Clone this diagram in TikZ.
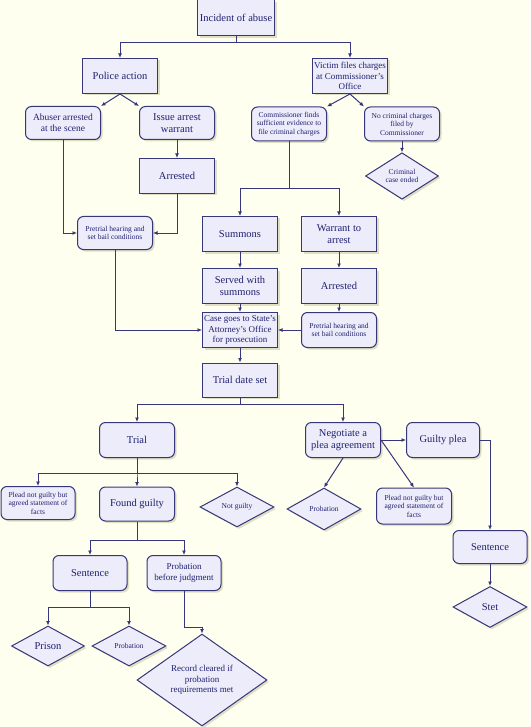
\documentclass[tikz,border=0pt]{standalone}
\usepackage{fontspec}
\setmainfont{Liberation Serif}
\usepackage{xcolor}
\usetikzlibrary{arrows.meta,shapes.geometric,shadows}
\definecolor{paper}{HTML}{FFFFF0}
\definecolor{boxfill}{HTML}{ECECFA}
\definecolor{navy}{HTML}{36367A}
\definecolor{ink}{HTML}{202070}
\definecolor{shade}{HTML}{D8D8B8}
\tikzset{
	box/.style={
			rectangle, draw=navy, line width=1pt, fill=boxfill, text=ink,
			minimum width=75pt, minimum height=35pt, inner sep=1pt, align=center,
			font=\fontsize{10.5}{11.5}\selectfont,
			drop shadow={shadow xshift=2pt, shadow yshift=-2pt, fill=shade, opacity=0.8}
		},
	rbox/.style={box, rounded corners=6pt},
	dia/.style={box, diamond, minimum width=74pt, minimum height=41pt, inner sep=0pt},
	long/.style={font=\fontsize{9}{10.5}\selectfont},
	tiny/.style={font=\fontsize{7.5}{8.5}\selectfont},
	flow/.style={draw=navy, line width=1pt, -{Latex[length=4.5pt,width=4pt]}}
}

\begin{document}
\begin{tikzpicture}[x=1pt, y=-1pt]
        \useasboundingbox[fill=paper] (0,0) rectangle (530,727);
        \node[box, minimum width=77pt, minimum height=36pt] (inc) at (236,18) {Incident of abuse};
        \node[box] (police) at (120,76) {Police action};
        \node[box, long] (victim) at (350,76) {Victim files charges\\at Commissioner's\\Office};
        \node[rbox, font=\fontsize{9.5}{11}\selectfont, minimum height=33pt] (abuser) at (63,123) {Abuser arrested\\at the scene};
        \node[rbox, minimum height=33pt] (issue) at (177,123) {Issue arrest\\warrant};
        \node[rbox, tiny, minimum height=34pt] (comm) at (289,124) {Commissioner finds\\sufficient evidence to\\file criminal charges};
        \node[rbox, tiny, minimum height=34pt] (nocrim) at (402,124) {No criminal charges\\filed by\\Commissioner};
        \node[box] (arr1) at (177,176) {Arrested};
        \node[dia, tiny, minimum width=73pt] (ended) at (402,176) {Criminal\\case ended};
        \node[rbox, tiny, minimum height=33pt] (pre1) at (115,233) {Pretrial hearing and\\set bail conditions};
        \node[box] (summons) at (240,234) {Summons};
        \node[box] (warrant) at (339,234) {Warrant to\\arrest};
        \node[box] (served) at (240,286) {Served with\\summons};
        \node[box] (arr2) at (339,286) {Arrested};
        \node[box, long] (case) at (240,330) {Case goes to State's\\Attorney's Office\\for prosecution};
        \node[rbox, tiny] (pre2) at (339,330) {Pretrial hearing and\\set bail conditions};
        \node[box, minimum height=34pt] (tds) at (240,380) {Trial date set};
        \node[rbox] (trial) at (137,440) {Trial};
        \node[rbox] (neg) at (343,440) {Negotiate a\\plea agreement};
        \node[rbox, minimum width=73pt] (gp) at (443,440) {Guilty plea};
        \node[rbox, tiny, minimum width=74pt, minimum height=33pt] (plead1) at (38,503) {Plead not guilty but\\agreed statement of\\facts};
        \node[rbox, minimum height=34pt] (found) at (137,504) {Found guilty};
        \node[dia, tiny, minimum height=40pt] (notg) at (237,507) {Not guilty};
        \node[dia, tiny, minimum height=42pt] (prob2) at (324,509) {Probation};
        \node[rbox, tiny, minimum height=36pt] (plead2) at (414,506) {Plead not guilty but\\agreed statement of\\facts};
        \node[rbox, minimum width=74pt, minimum height=33pt] (sent2) at (490,547) {Sentence};
        \node[dia] (stet) at (490,607) {Stet};
        \node[rbox, minimum width=74pt] (sent1) at (90,573) {Sentence};
        \node[rbox, long, minimum width=74pt] (pbj) at (184,573) {Probation\\before judgment};
        \node[dia, minimum width=73pt, minimum height=40pt] (prison) at (48,646) {Prison};
        \node[dia, tiny, minimum height=40pt] (prob1) at (129,646) {Probation};
        \node[dia, long, minimum width=130pt, minimum height=85pt] (record) at (202,680) {Record cleared if\\probation\\requirements met};

        \draw[flow] (inc.south) -- ++(0,6) -| (police.north);
        \draw[flow] (inc.south) -- ++(0,6) -| (victim.north);
        \draw[flow] (police.south) -- (abuser.north east);
        \draw[flow] (police.south) -- (issue.north west);
        \draw[flow] (victim.south) -- (comm.north east);
        \draw[flow] (victim.south) -- (nocrim.north west);
        \draw[flow] (issue) -- (arr1);
        \draw[flow] (nocrim) -- (ended);
        \draw[flow] (abuser.south) |- (pre1.west);
        \draw[flow] (arr1.south) |- (pre1.east);
        \draw[flow] (comm.south) -- ++(0,47) -| (summons.north);
        \draw[flow] (comm.south) -- ++(0,47) -| (warrant.north);
        \draw[flow] (summons) -- (served);
        \draw[flow] (warrant) -- (arr2);
        \draw[flow] (served) -- (case);
        \draw[flow] (arr2) -- (pre2);
        \draw[flow] (pre1.south) |- (case.west);
        \draw[flow] (pre2) -- (case);
        \draw[flow] (case) -- (tds);
        \draw[flow] (tds.south) -- ++(0,7) -| (trial.north);
        \draw[flow] (tds.south) -- ++(0,7) -| (neg.north);
        \draw[flow] (neg.east) -- (gp.west);
        \draw[flow] (neg.south) -- (prob2.north);
        \draw[flow] (neg.east) -- (plead2.north);
        \draw[flow] (gp.east) -| (sent2.north);
        \draw[flow] (sent2) -- (stet);
        \draw[flow] (trial.south) -- ++(0,15) -| (plead1.north);
        \draw[flow] (trial.south) -- ++(0,15) -| (found.north);
        \draw[flow] (trial.south) -- ++(0,15) -| (notg.north);
        \draw[flow] (found.south) -- ++(0,19) -| (sent1.north);
        \draw[flow] (found.south) -- ++(0,19) -| (pbj.north);
        \draw[flow] (sent1.south) -- ++(0,16) -| (prison.north);
        \draw[flow] (sent1.south) -- ++(0,16) -| (prob1.north);
        \draw[flow] (pbj.south) -- ++(0,36) -| (record.north);
    \end{tikzpicture}
\end{document}
